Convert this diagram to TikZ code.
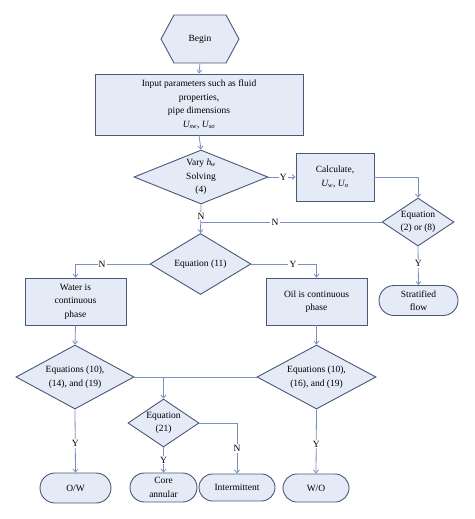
\documentclass[tikz,border=0pt]{standalone}
\usepackage{fontspec}
\setmainfont{Liberation Serif}
\usetikzlibrary{shapes.geometric,shapes.misc,arrows.meta}
\definecolor{bfill}{HTML}{E4EAF6}
\definecolor{bline}{HTML}{4B5778}
\definecolor{aline}{HTML}{7A90C2}
\newcommand{\vv}[2]{\textit{#1}\textsubscript{\kern-0.5pt\textit{#2}}}
\begin{document}
\begin{tikzpicture}[x=1pt,y=-1pt,
  every node/.style={font=\fontsize{9.5}{13.5}\selectfont, align=center, inner sep=0pt},
  box/.style={draw=bline, fill=bfill, line width=0.9pt, rectangle},
  dia/.style={draw=bline, fill=bfill, line width=0.9pt, diamond},
  term/.style={draw=bline, fill=bfill, line width=0.9pt, rounded rectangle},
  conn/.style={draw=aline, line width=0.8pt},
  arr/.style={conn, -{Straight Barb[length=3pt,width=5pt]}},
  lab/.style={fill=white, inner sep=1.2pt}]
\useasboundingbox (0,0) rectangle (474,519);

% Begin hexagon
\node (begin) at (200,39) [minimum width=78, minimum height=48] {};
\draw[draw=bline, fill=bfill, line width=0.9pt] (161,39) -- (174,15) -- (226,15) -- (239,39) -- (226,63) -- (174,63) -- cycle;
\node at (begin) {Begin};

\node[box, minimum width=208, minimum height=61] (input) at (199,104.5) {};
\node at (input) {Input parameters such as fluid\\properties,\\pipe dimensions\\\vv{U}{sw}, \vv{U}{so}};

\node[dia, minimum width=134, minimum height=54] (vary) at (201,177) {};
\node at (vary) {Vary \vv{h}{w}\\Solving\\(4)};

\node[box, minimum width=78, minimum height=48] (calc) at (335,177) {Calculate,\\\vv{U}{w}, \vv{U}{o}};

\node[dia, minimum width=72, minimum height=48] (eqa) at (418,222) {};
\node at (eqa) {Equation\\(2) or (8)};

\node[term, minimum width=79, minimum height=30] (strat) at (418.5,300.5) {Stratified\\flow};

\node[dia, minimum width=101, minimum height=61] (eqb) at (200.5,264) {};
\node at (eqb) {Equation (11)};

\node[box, minimum width=101, minimum height=47] (water) at (75.5,301.5) {Water is\\continuous\\phase};
\node[box, minimum width=101, minimum height=47] (oil) at (316.5,301.5) {Oil is continuous\\phase};

\node[dia, minimum width=118, minimum height=64] (eqc) at (75,377) {};
\node at (eqc) {Equations (10),\\(14), and (19)};
\node[dia, minimum width=119, minimum height=64] (eqd) at (316.5,377) {};
\node at (eqd) {Equations (10),\\(16), and (19)};

\node[dia, minimum width=71, minimum height=48] (eqe) at (163.5,423) {};
\node at (eqe) {Equation\\(21)};

\node[term, minimum width=71, minimum height=30] (ow) at (75.5,488) {O/W};
\node[term, minimum width=67, minimum height=29] (core) at (163.5,487.5) {Core\\annular};
\node[term, minimum width=76, minimum height=27] (inter) at (237,487.5) {Intermittent};
\node[term, minimum width=66, minimum height=28] (wo) at (316,488) {W/O};

\coordinate (j1) at (201,222);
\coordinate (j2) at (163.5,377);

% connectors
\draw[arr] (begin.south) -- (input.north);
\draw[arr] (input.south) -- (vary.north);
\draw[arr] (vary.east) -- node[lab, pos=0.55] {Y} (calc.west);
\draw[arr] (calc.east) -| (eqa.north);
\draw[arr] (vary.south) -- (eqb.north);
\node[lab] (n1) at (201,216) {N};
\draw[conn] (eqa.west) -- node[lab, pos=0.59] {N} (j1);
\draw[arr] (eqa.south) -- node[lab, pos=0.45] {Y} (strat.north);
\draw[arr] (eqb.west) -| node[lab, pos=0.32] {N} (water.north);
\draw[arr] (eqb.east) -| node[lab, pos=0.32] {Y} (oil.north);
\draw[arr] (water.south) -- (eqc.north);
\draw[arr] (oil.south) -- (eqd.north);
\draw[conn] (eqc.east) -- (eqd.west);
\draw[arr] (j2) -- (eqe.north);
\draw[arr] (eqe.east) -| node[lab, pos=0.75] {N} (inter.north);
\draw[arr] (eqe.south) -- node[lab, pos=0.5] {Y} (core.north);
\draw[arr] (eqc.south) -- node[lab, pos=0.54] {Y} (ow.north);
\draw[arr] (eqd.south) -- node[lab, pos=0.54] {Y} (wo.north);
\end{tikzpicture}
\end{document}
